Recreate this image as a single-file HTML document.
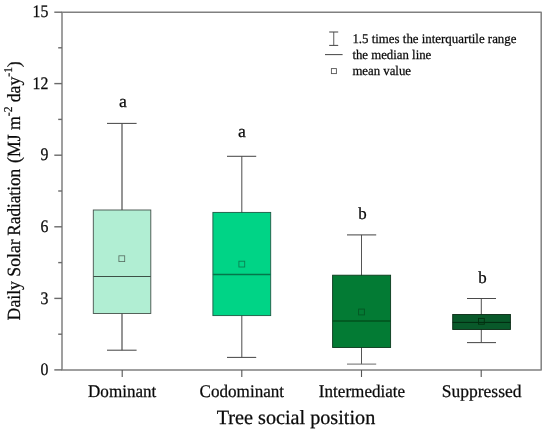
<!DOCTYPE html>
<html>
<head>
<meta charset="utf-8">
<title>Daily Solar Radiation by tree social position</title>
<style>
html,body{margin:0;padding:0;background:#fff;}
body{width:550px;height:435px;overflow:hidden;}
svg{display:block;}
text{text-rendering:geometricPrecision;font-family:"Liberation Serif","Times New Roman",serif;fill:#0a0a0a;stroke:#0a0a0a;stroke-width:0.25;}
.ax{stroke:#808080;stroke-width:1.5;fill:none;}
.tk{stroke:#6a6a6a;stroke-width:1.4;fill:none;}
.wh{stroke:#555;stroke-width:1.05;fill:none;}
.cap{stroke:#4a4a4a;stroke-width:1.05;fill:none;}
.bx{stroke-width:0.9;}
.md{fill:none;}
.mn{fill:none;}
.yl{font-size:17.6px;text-anchor:end;}
.xl{font-size:17.8px;text-anchor:middle;}
.lt{font-size:17.6px;text-anchor:middle;}
.lg{font-size:13.2px;}
</style>
</head>
<body>
<svg width="550" height="435" viewBox="0 0 550 435">
<rect x="0" y="0" width="550" height="435" fill="#fff"/>

<!-- frame -->
<rect class="ax" x="62" y="12.2" width="479.2" height="357.7" stroke-linejoin="round"/>

<!-- y ticks major -->
<g class="tk">
<line x1="54.3" y1="12.2" x2="62" y2="12.2"/>
<line x1="54.3" y1="83.6" x2="62" y2="83.6"/>
<line x1="54.3" y1="155.2" x2="62" y2="155.2"/>
<line x1="54.3" y1="226.8" x2="62" y2="226.8"/>
<line x1="54.3" y1="298.4" x2="62" y2="298.4"/>
<line x1="54.3" y1="369.9" x2="62" y2="369.9"/>
<!-- minor -->
<line x1="58.2" y1="47.8" x2="62" y2="47.8"/>
<line x1="58.2" y1="119.4" x2="62" y2="119.4"/>
<line x1="58.2" y1="191.0" x2="62" y2="191.0"/>
<line x1="58.2" y1="262.6" x2="62" y2="262.6"/>
<line x1="58.2" y1="334.2" x2="62" y2="334.2"/>
<!-- x ticks -->
<line x1="122.2" y1="370" x2="122.2" y2="377" style="stroke:#555;stroke-width:1.1"/>
<line x1="241.8" y1="370" x2="241.8" y2="377" style="stroke:#555;stroke-width:1.1"/>
<line x1="361.5" y1="370" x2="361.5" y2="377" style="stroke:#555;stroke-width:1.1"/>
<line x1="481.2" y1="370" x2="481.2" y2="377" style="stroke:#555;stroke-width:1.1"/>
</g>

<!-- y tick labels -->
<text class="yl" transform="translate(48.3,17.2) scale(0.90,1)">15</text>
<text class="yl" transform="translate(48.3,88.8) scale(0.90,1)">12</text>
<text class="yl" transform="translate(48.3,160.4) scale(0.90,1)">9</text>
<text class="yl" transform="translate(48.3,232.0) scale(0.90,1)">6</text>
<text class="yl" transform="translate(48.3,303.6) scale(0.90,1)">3</text>
<text class="yl" transform="translate(48.3,375.2) scale(0.90,1)">0</text>

<!-- y axis title -->
<g style="font-size:18.6px">
<text transform="translate(19.7,320.4) rotate(-90) scale(0.952,1)">Daily Solar</text>
<text transform="translate(19.7,235.7) rotate(-90) scale(0.924,1)">Radiation</text>
<text transform="translate(19.7,162.9) rotate(-90) scale(0.952,1)">(MJ m<tspan dy="-8" style="font-size:12px">-2</tspan><tspan dy="8"> day</tspan><tspan dy="-8" style="font-size:12px">-1</tspan><tspan dy="8">)</tspan></text>
</g>

<!-- x labels -->
<text class="xl" transform="translate(122.2,397.35) scale(0.961,1)">Dominant</text>
<text class="xl" transform="translate(241.8,397.35) scale(0.961,1)">Codominant</text>
<text class="xl" transform="translate(362.0,397.35) scale(0.961,1)">Intermediate</text>
<text class="xl" transform="translate(481.6,397.35) scale(0.985,1)">Suppressed</text>
<text x="296" y="424.3" style="font-size:20.2px;text-anchor:middle">Tree social position</text>

<!-- box 1 Dominant -->
<g>
<line class="wh" x1="122" y1="123.4" x2="122" y2="350.2" style="stroke:#909090;stroke-width:1.9"/>
<line class="cap" x1="107" y1="123.4" x2="136.6" y2="123.4"/>
<line class="cap" x1="107" y1="350.2" x2="136.6" y2="350.2"/>
<rect class="bx" x="93.3" y="210" width="57.5" height="103.5" fill="#b1eed3" stroke="#46524c"/>
<line class="md" x1="93.3" y1="276.4" x2="150.8" y2="276.4" stroke="#3c5046" stroke-width="1.05"/>
<rect class="mn" x="118.9" y="255.8" width="5.8" height="5.8" stroke="#556a5f" stroke-width="0.8"/>
</g>

<!-- box 2 Codominant -->
<g>
<line class="wh" x1="241.8" y1="156.3" x2="241.8" y2="357.4"/>
<line class="cap" x1="227" y1="156.3" x2="256.2" y2="156.3"/>
<line class="cap" x1="227" y1="357.4" x2="256.2" y2="357.4"/>
<rect class="bx" x="212.9" y="212.4" width="57.8" height="103.2" fill="#00d486" stroke="#1d5a44"/>
<line class="md" x1="212.9" y1="274.5" x2="270.7" y2="274.5" stroke="#04764a" stroke-width="1.3"/>
<rect class="mn" x="238.9" y="261.2" width="5.8" height="5.8" stroke="#0a8052" stroke-width="0.9"/>
</g>

<!-- box 3 Intermediate -->
<g>
<line class="wh" x1="361.5" y1="234.9" x2="361.5" y2="364.1"/>
<line class="cap" x1="347" y1="234.9" x2="376.2" y2="234.9"/>
<line class="cap" x1="347" y1="364.1" x2="376.2" y2="364.1" style="stroke:#707070"/>
<rect class="bx" x="332.6" y="275.2" width="58" height="72.3" fill="#037b34" stroke="#0c3a1e"/>
<line class="md" x1="332.6" y1="321" x2="390.6" y2="321" stroke="#02501d" stroke-width="1.5"/>
<rect class="mn" x="358.6" y="309.1" width="5.8" height="5.8" stroke="#045624" stroke-width="0.9"/>
</g>

<!-- box 4 Suppressed -->
<g>
<line class="wh" x1="481.3" y1="298.5" x2="481.3" y2="342.6"/>
<line class="cap" x1="467" y1="298.5" x2="496" y2="298.5"/>
<line class="cap" x1="467" y1="342.6" x2="496" y2="342.6"/>
<rect class="bx" x="452.7" y="314.5" width="57.7" height="15" fill="#09592a" stroke="#0a2a14"/>
<line class="md" x1="452.7" y1="322.4" x2="510.4" y2="322.4" stroke="#032a10" stroke-width="1"/>
<rect class="mn" x="478.5" y="318.4" width="5.8" height="5.8" stroke="#03300f" stroke-width="0.9"/>
</g>

<!-- significance letters -->
<text class="lt" x="122.8" y="107.1">a</text>
<text class="lt" x="241.8" y="137.1">a</text>
<text class="lt" x="362.4" y="218.5" style="font-size:16.9px">b</text>
<text class="lt" x="482.4" y="282.7" style="font-size:16.9px">b</text>

<!-- legend -->
<g>
<line class="wh" x1="333.7" y1="32" x2="333.7" y2="45.4" style="stroke:#777;stroke-width:1.2"/>
<line class="cap" x1="329.2" y1="32" x2="338.2" y2="32"/>
<line class="cap" x1="329.2" y1="45.4" x2="338.2" y2="45.4"/>
<line class="cap" x1="325" y1="54.6" x2="342.6" y2="54.6"/>
<rect class="mn" x="331.4" y="68.6" width="5" height="5" stroke="#555" stroke-width="0.9"/>
<text class="lg" transform="translate(352.4,43) scale(0.976,1)">1.5 times the interquartile range</text>
<text class="lg" transform="translate(352.4,58.9) scale(0.97,1)">the median line</text>
<text class="lg" transform="translate(352.4,74.9) scale(0.97,1)">mean value</text>
</g>
</svg>
</body>
</html>
